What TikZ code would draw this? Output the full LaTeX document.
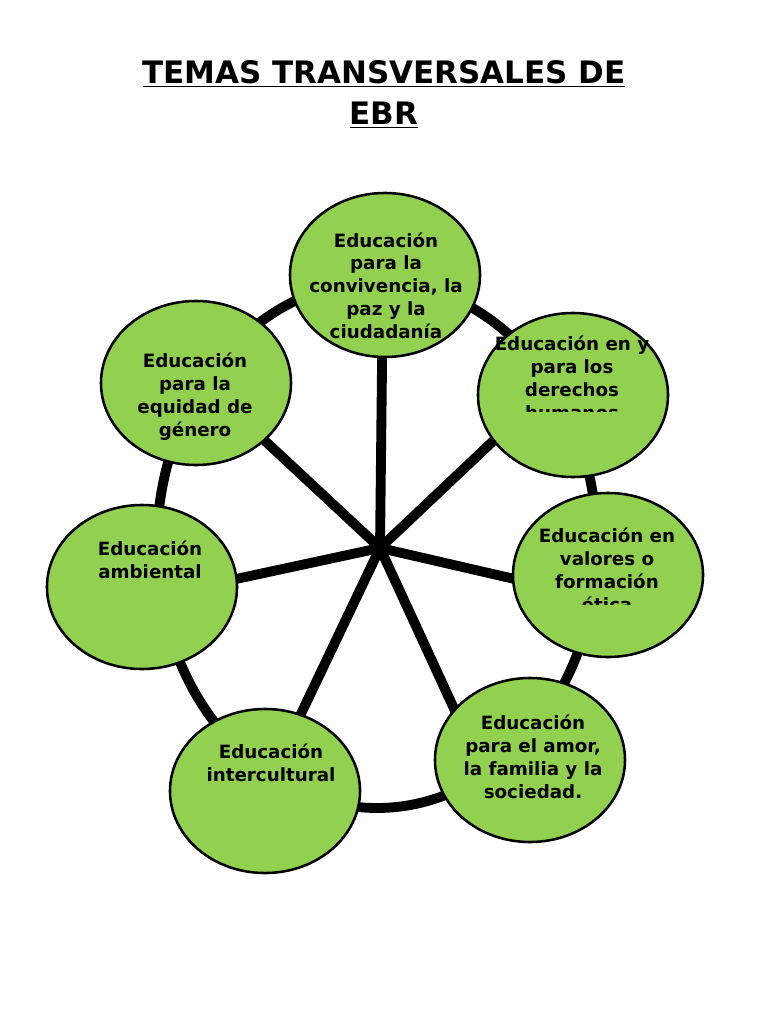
\documentclass[tikz,border=0pt]{standalone}
\usepackage{fontspec}
\setmainfont{DejaVu Sans}
\usetikzlibrary{shapes.geometric, backgrounds}

\definecolor{leafgreen}{HTML}{92D050}

\begin{document}
\begin{tikzpicture}[
    x=0.025cm, y=-0.025cm,
    tema/.style={draw, ellipse, fill=leafgreen, line width=1.8pt,
                 minimum width=4.75cm, minimum height=4.1cm, inner sep=0pt},
    tematext/.style={font=\fontsize{13}{16.15}\selectfont\bfseries,
                     align=center, anchor=base, inner sep=0pt},
    heading/.style={font=\fontsize{22}{29.6}\selectfont\bfseries,
                    align=center, anchor=base, inner sep=0pt},
    ring/.style={line width=7pt},
    spoke/.style={line width=7pt, shorten >=-6pt}
]

\useasboundingbox (0,0) rectangle (768,1024);

% Title (base = last line)
\node[heading] (title) at (384,125) {\underline{TEMAS TRANSVERSALES DE}\\\underline{EBR}};

% Ellipses
\node[tema] (e1) at (385,275) {};
\node[tema] (e2) at (196,383) {};
\node[tema] (e3) at (573,395) {};
\node[tema] (e4) at (142,587) {};
\node[tema] (e5) at (608,575) {};
\node[tema] (e6) at (265,791) {};
\node[tema] (e7) at (530,760) {};

% Texts
\node[tematext] (t1) at (386,338) {Educación\\para la\\convivencia, la\\paz y la\\ciudadanía};
\node[tematext] (t2) at (195,436) {Educación\\para la\\equidad de\\género};
\begin{scope}
  \clip (470,300) rectangle (680,411);
  \node[tematext] (t3) at (572,419) {Educación en y\\para los\\derechos\\humanos};
\end{scope}
\node[tematext] (t4) at (150,578) {Educación\\ambiental};
\begin{scope}
  \clip (505,490) rectangle (710,604);
  \node[tematext] (t5) at (607,611) {Educación en\\valores o\\formación\\ética};
\end{scope}
\node[tematext] (t6) at (271,781) {Educación\\intercultural};
\node[tematext] (t7) at (533,798) {Educación\\para el amor,\\la familia y la\\sociedad.};

% Ring and spokes
\begin{scope}[on background layer]
  \fill[white] (0,0) rectangle (768,1024);
  \coordinate (hub) at (380,548);
  \draw[ring] (377,545) ellipse [x radius=220, y radius=263];
  \draw[spoke] (hub) -- (e1.268);
  \draw[spoke] (hub) -- (e2.320);
  \draw[spoke] (hub) -- (e3.210);
  \draw[spoke] (hub) -- (e4.5);
  \draw[spoke] (hub) -- (e5.182);
  \draw[spoke] (hub) -- (e6.65);
  \draw[spoke] (hub) -- (e7.146);
\end{scope}

\end{tikzpicture}
\end{document}
